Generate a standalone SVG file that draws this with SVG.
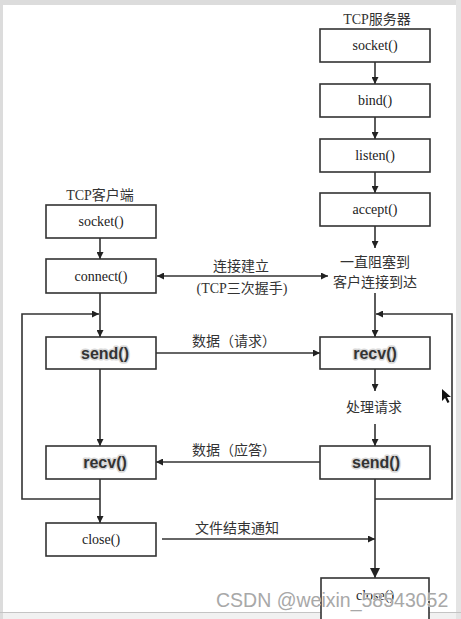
<svg xmlns="http://www.w3.org/2000/svg" width="461" height="619" viewBox="0 0 461 619">
<style>
.box{fill:#fff;stroke:#333;stroke-width:1.6}
.ln{fill:none;stroke:#333;stroke-width:1.6}
.t{font-family:"Liberation Serif","Times New Roman",serif;font-size:14px;fill:#222;text-anchor:middle}
.b{font-family:"Liberation Sans",Arial,sans-serif;font-weight:bold;font-size:16px;fill:#333;text-anchor:middle;stroke:#d8d8d8;stroke-width:3;paint-order:stroke;stroke-linejoin:round}
.c{font-family:"Liberation Serif","Noto Sans CJK SC",serif;font-size:14px;fill:#333;text-anchor:middle}
.wm{font-family:"Liberation Sans",Arial,sans-serif;font-size:19.5px;fill:#a8a8a8;stroke:#fff;stroke-width:0.6;paint-order:stroke}
</style>
<defs>
<marker id="ah" viewBox="0 0 10 10" refX="10" refY="5" markerWidth="7" markerHeight="7" markerUnits="userSpaceOnUse" orient="auto-start-reverse"><path d="M0,0L10,5L0,10z" fill="#222"/></marker>
<marker id="ahb" viewBox="0 0 10 10" refX="10" refY="5" markerWidth="12" markerHeight="10" markerUnits="userSpaceOnUse" orient="auto"><path d="M0,0L10,5L0,10z" fill="#222"/></marker>
</defs>
<rect x="0" y="0" width="461" height="619" fill="#f1f1f1"/>
<rect x="0" y="0" width="461" height="5" fill="#dcdcdc"/>
<rect x="0" y="0" width="3" height="619" fill="#dcdcdc"/>
<rect x="456" y="0" width="5" height="619" fill="#e4e4e4"/>
<rect x="3" y="5" width="453" height="607" fill="#fff"/>
<line x1="0" y1="612.5" x2="461" y2="612.5" stroke="#c4c4c4" stroke-width="1"/>

<g id="connectors">
<line class="ln" x1="375" y1="62" x2="375" y2="84" marker-end="url(#ah)"/>
<line class="ln" x1="375" y1="117" x2="375" y2="139" marker-end="url(#ah)"/>
<line class="ln" x1="375" y1="172" x2="375" y2="193" marker-end="url(#ah)"/>
<line class="ln" x1="375" y1="226" x2="375" y2="248" marker-end="url(#ah)"/>
<line class="ln" x1="375" y1="293" x2="375" y2="337" marker-end="url(#ah)"/>
<line class="ln" x1="375" y1="369" x2="375" y2="391" marker-end="url(#ah)"/>
<line class="ln" x1="375" y1="424" x2="375" y2="446" marker-end="url(#ah)"/>
<line class="ln" x1="375" y1="479" x2="375" y2="578" marker-end="url(#ahb)"/>
<polyline class="ln" points="375,499 452,499 452,314 376,314" marker-end="url(#ah)"/>
<line class="ln" x1="100" y1="238" x2="100" y2="259" marker-end="url(#ah)"/>
<line class="ln" x1="100" y1="293" x2="100" y2="337" marker-end="url(#ah)"/>
<line class="ln" x1="100" y1="369" x2="100" y2="446" marker-end="url(#ah)"/>
<line class="ln" x1="100" y1="479" x2="100" y2="523" marker-end="url(#ah)"/>
<polyline class="ln" points="100,499 22,499 22,314 99,314" marker-end="url(#ah)"/>
<line class="ln" x1="157" y1="276" x2="328" y2="276" marker-start="url(#ah)" marker-end="url(#ah)"/>
<line class="ln" x1="156" y1="353" x2="320" y2="353" marker-end="url(#ah)"/>
<line class="ln" x1="320" y1="462" x2="156" y2="462" marker-end="url(#ah)"/>
<line class="ln" x1="162" y1="539" x2="375" y2="539" marker-end="url(#ah)"/>
<text class="c" x="241" y="271">连接建立</text>
<text class="c" x="242" y="293">(TCP三次握手)</text>
<text class="c" x="234" y="346" font-size="13">数据（请求）</text>
<text class="c" x="234" y="455" font-size="13">数据（应答）</text>
<text class="c" x="237" y="533" font-size="13.5">文件结束通知</text>
</g>

<g id="server-title"><text class="c" x="377" y="24" font-size="15">TCP服务器</text></g>
<g id="server-socket"><rect class="box" x="320" y="29" width="110" height="33"/><text class="t" x="375" y="50">socket()</text></g>
<g id="server-bind"><rect class="box" x="320" y="84" width="110" height="33"/><text class="t" x="375" y="105">bind()</text></g>
<g id="server-listen"><rect class="box" x="320" y="139" width="110" height="33"/><text class="t" x="375" y="160">listen()</text></g>
<g id="server-accept"><rect class="box" x="320" y="193" width="110" height="33"/><text class="t" x="375" y="214">accept()</text></g>
<g id="server-block"><text class="c" x="375" y="267">一直阻塞到</text><text class="c" x="375" y="287">客户连接到达</text></g>
<g id="server-recv"><rect class="box" x="320" y="337" width="110" height="32"/><text class="b" x="375" y="359">recv()</text></g>
<g id="server-process"><text class="c" x="374" y="412">处理请求</text></g>
<g id="server-send"><rect class="box" x="320" y="446" width="110" height="33"/><text class="b" x="376" y="468">send()</text></g>
<g id="server-close"><rect class="box" x="321" y="578" width="108" height="45"/><text class="t" x="375" y="600">close()</text></g>

<g id="client-title"><text class="c" x="100" y="200" font-size="15">TCP客户端</text></g>
<g id="client-socket"><rect class="box" x="46" y="205" width="110" height="33"/><text class="t" x="101" y="226">socket()</text></g>
<g id="client-connect"><rect class="box" x="46" y="259" width="110" height="34"/><text class="t" x="101" y="281">connect()</text></g>
<g id="client-send"><rect class="box" x="46" y="337" width="110" height="32"/><text class="b" x="105" y="359">send()</text></g>
<g id="client-recv"><rect class="box" x="46" y="446" width="110" height="33"/><text class="b" x="105" y="468">recv()</text></g>
<g id="client-close"><rect class="box" x="46" y="523" width="110" height="33"/><text class="t" x="101" y="544">close()</text></g>

<path d="M442,389 L442,401 L445,398 L447.5,403 L449.5,402 L447,397 L451,397 Z" fill="#111"/>
<text class="wm" x="216" y="607">CSDN @weixin_58543052</text>
</svg>
